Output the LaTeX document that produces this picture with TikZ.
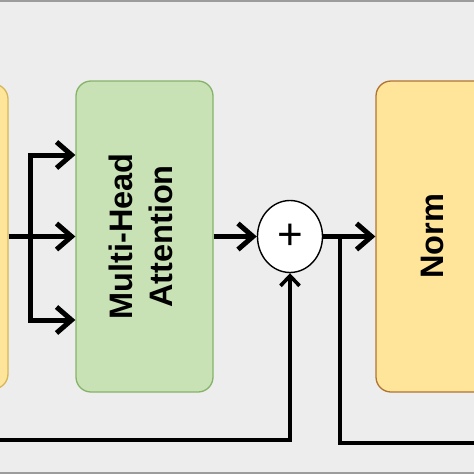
\documentclass[tikz,border=0pt]{standalone}
\usepackage{fontspec}
\setmainfont{Liberation Sans}
\usetikzlibrary{arrows.meta,shapes.geometric}
\definecolor{bgcol}{HTML}{EDEDED}
\definecolor{barcol}{HTML}{9C9C9C}
\definecolor{yelfill}{HTML}{FFE599}
\definecolor{yeldraw}{HTML}{D6B656}
\definecolor{normdraw}{HTML}{B07432}
\definecolor{grnfill}{HTML}{C8E2B5}
\definecolor{grndraw}{HTML}{86B36A}
\begin{document}
\begin{tikzpicture}
    [x=1pt, y=-1pt,
    block/.style={rectangle, rounded corners=15pt, line width=1.3pt,
      minimum height=311pt, inner sep=0pt,
      font=\fontsize{32.5}{41}\selectfont\bfseries, align=center},
    flow/.style={line width=5pt, -{Straight Barb[length=15pt,width=26pt]}},
    skip/.style={line width=3.6pt, -{Straight Barb[length=10pt,width=19pt]}}]
    \clip (0,0) rectangle (474,474);
    \fill[bgcol] (0,0) rectangle (474,474);
    \fill[barcol] (0,0) rectangle (474,2);
    \fill[barcol] (0,471.5) rectangle (474,474);
    \node[block, fill=yelfill, draw=yeldraw, minimum width=136pt,
      minimum height=305pt] (embed) at (-60,236.5) {};
    \node[block, fill=grnfill, draw=grndraw, minimum width=137pt]
      (mha) at (144.5,236.5) {\rotatebox{90}{\begin{tabular}{@{}c@{}}Multi-Head\\[-1pt]Attention\end{tabular}}};
    \node[ellipse, draw, fill=white, line width=1.4pt, minimum width=65pt,
      minimum height=72pt, inner sep=0pt, font=\fontsize{44}{44}\selectfont]
      (add) at (290,236.5) {+};
    \node[block, fill=yelfill, draw=normdraw, minimum width=113pt]
      (norm) at (432.5,236.5) {\rotatebox{90}{Norm}};
    \coordinate (split) at (30,236.5);
    \coordinate (tap) at (340,236.5);
    \coordinate (resin) at (0,440);
    \coordinate (resout) at (474,443);
    \draw[flow] (embed.east) -- (mha.west);
    \draw[flow] (split) |- ([yshift=81.5pt]mha.west);
    \draw[flow] (split) |- ([yshift=-83.5pt]mha.west);
    \draw[flow] (mha.east) -- (add.west);
    \draw[flow] (add.east) -- (norm.west);
    \draw[skip] (resin) -| (add.south);
    \draw[line width=3.6pt] (tap) |- (resout);
  \end{tikzpicture}
\end{document}
